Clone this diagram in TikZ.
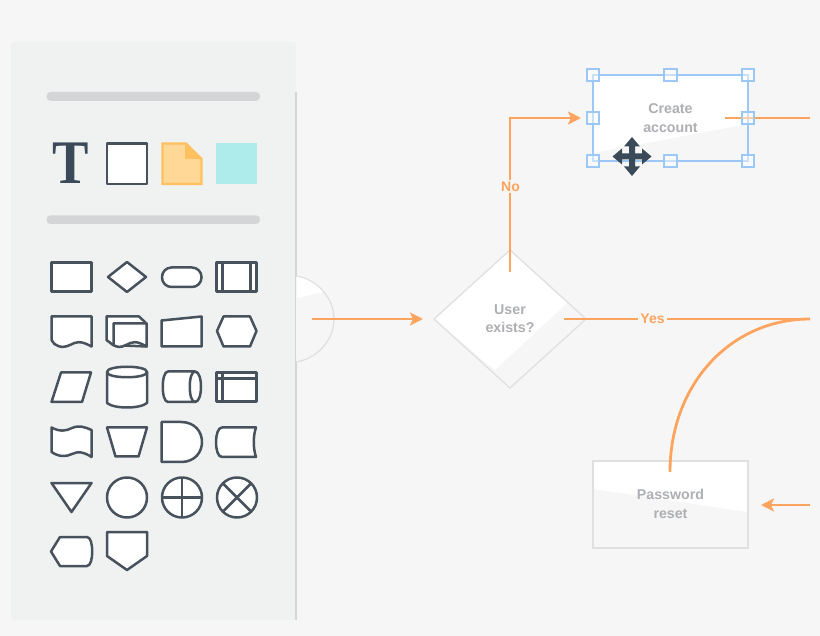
\documentclass[tikz,border=0pt]{standalone}
\usepackage{xcolor}
\usepackage{fontspec}
\setmainfont{Liberation Sans}
\newfontfamily\serifT{Liberation Serif}
\usetikzlibrary{arrows.meta}
\definecolor{pagebg}{HTML}{F6F6F6}
\definecolor{panelbg}{HTML}{F0F2F1}
\definecolor{barcol}{HTML}{D3D5D6}
\definecolor{iconcol}{HTML}{47525D}
\definecolor{darkcol}{HTML}{3B4A58}
\definecolor{flowcol}{HTML}{FFA45E}
\definecolor{edgecol}{HTML}{E0E0E0}
\definecolor{textcol}{HTML}{ADAFB3}
\definecolor{selcol}{HTML}{9CC8F7}
\definecolor{notefill}{HTML}{FFD898}
\definecolor{noteedge}{HTML}{FFC05F}
\definecolor{tealfill}{HTML}{AEECEB}
\tikzset{
  icon/.style={draw=iconcol,fill=white,line width=2.5pt,line join=round},
  iconline/.style={draw=iconcol,line width=2.5pt},
  bar/.style={fill=barcol,rounded corners=4pt},
  flow/.style={draw=flowcol,line width=2.8pt},
  arrowflow/.style={flow,-{Stealth[length=13pt,width=13pt,inset=3pt]}},
  outline/.style={draw=edgecol,line width=1.3pt},
  label/.style={font=\fontsize{14.2}{18.5}\selectfont\bfseries,text=textcol,align=center,inner sep=0pt},
  flowlabel/.style={font=\fontsize{14}{16}\selectfont\bfseries,text=flowcol,fill=pagebg,inner sep=2pt},
  handle/.style={draw=selcol,fill=white,fill opacity=0.45,line width=1.7pt,minimum size=12.5pt,inner sep=0pt}
}
\begin{document}
\begin{tikzpicture}[x=1pt,y=-1pt]
\useasboundingbox (0,0) rectangle (820,636);
\fill[pagebg] (0,0) rectangle (820,636);

\fill[panelbg,rounded corners=3pt] (11,42) rectangle (296,620);
\draw[barcol,line width=1.5pt] (296,92) -- (296,620);
\fill[bar] (46.5,92) rectangle (260,100.8);
\fill[bar] (46.5,215.3) rectangle (260,224);

\node (ttool) at (71,163.5) [text=darkcol,inner sep=0pt,xscale=0.88,font=\fontsize{62}{62}\selectfont\serifT\bfseries] {T};
\draw[icon] (107,143.5) rectangle (147,184);
\draw[draw=noteedge,fill=notefill,line width=2.4pt] (162.5,143.5) -- (186,143.5) -- (201.5,159) -- (201.5,184) -- (162.5,184) -- cycle;
\fill[noteedge] (185,143.5) -- (201.5,159) -- (185,159) -- cycle;
\fill[tealfill] (216,143) rectangle (257,184.5);

\draw[icon] (51.5,262.5) rectangle (91.5,291.5);
\draw[icon] (108,277) -- (127,262) -- (146,277) -- (127,292) -- cycle;
\draw[icon,rounded corners=9.5pt] (162,267.5) rectangle (201.5,287);
\draw[icon] (216.5,262.5) rectangle (256.5,291.5);
\draw[iconline] (222.5,262.5) -- (222.5,291.5);
\draw[iconline] (250.5,262.5) -- (250.5,291.5);

\draw[icon] (51.5,316.5) -- (91.5,316.5) -- (91.5,346.5) .. controls (80,340) and (76,342) .. (70,345) .. controls (62,349) and (54,346) .. (51.5,340) -- cycle;
\draw[icon] (106.5,316.5) -- (139,316.5) -- (146.5,323.5) -- (146.5,346.5) -- (113,345) -- (106.5,340) -- cycle;
\draw[icon] (113.5,323.5) -- (146.5,323.5) -- (146.5,346.5) .. controls (136,340) and (132,342) .. (126,345) .. controls (121,348) and (116,347) .. (113.5,345) -- cycle;
\draw[icon] (161.5,320.5) -- (201.5,316.5) -- (201.5,346.5) -- (161.5,346.5) -- cycle;
\draw[icon] (217,331) -- (223.5,316.5) -- (250,316.5) -- (256.5,331) -- (250,346.5) -- (223.5,346.5) -- cycle;

\draw[icon] (51.5,402) -- (61,372.5) -- (91,372.5) -- (82,402) -- cycle;
\draw[icon] (107,372) .. controls (107,365) and (147,365) .. (147,372) -- (147,403) .. controls (140,409) and (114,409) .. (107,403) -- cycle;
\draw[iconline] (107,372) .. controls (107,379) and (147,379) .. (147,372);
\draw[icon] (168,371.5) -- (195,371.5) .. controls (203,371.5) and (203,402) .. (195,402) -- (168,402) .. controls (161,402) and (161,371.5) .. (168,371.5) -- cycle;
\draw[iconline] (195,371.5) .. controls (188,371.5) and (188,402) .. (195,402);
\draw[icon] (216.5,372.5) rectangle (256.5,401.5);
\draw[iconline] (216.5,378.5) -- (256.5,378.5);
\draw[iconline] (222.5,372.5) -- (222.5,401.5);

\draw[icon] (51.5,427.5) .. controls (60,432) and (66,431) .. (72,428) .. controls (79,425) and (85,427) .. (91.5,430) -- (91.5,457) .. controls (84,452) and (78,451) .. (72,454) .. controls (66,457) and (59,457) .. (51.5,452) -- cycle;
\draw[icon] (107,427.5) -- (147,427.5) -- (138.5,456.5) -- (115.5,456.5) -- cycle;
\draw[icon] (161.5,422) -- (181,422) .. controls (209,422) and (209,462) .. (181,462) -- (161.5,462) -- cycle;
\draw[icon] (222,427.5) -- (256,427.5) .. controls (253,436) and (253,448) .. (256,457) -- (222,457) .. controls (214,457) and (214,427.5) .. (222,427.5) -- cycle;

\draw[icon] (51.5,483) -- (91.5,483) -- (71.5,512) -- cycle;
\draw[icon] (127,497.5) circle[radius=20];
\draw[icon] (182,497.5) circle[radius=20];
\draw[iconline] (162,497.5) -- (202,497.5);
\draw[iconline] (182,477.5) -- (182,517.5);
\draw[icon] (237,497.5) circle[radius=20];
\draw[iconline] (223,483.5) -- (251,511.5);
\draw[iconline] (251,483.5) -- (223,511.5);

\draw[icon] (51,551.5) -- (60,537) -- (87,537) .. controls (94,537) and (94,566) .. (87,566) -- (60,566) -- cycle;
\draw[icon] (107,532) -- (147,532) -- (147,556) -- (127,570) -- (107,556) -- cycle;

\draw[outline,fill=pagebg] (296,276) .. controls (316,279) and (334,297) .. (334,319) .. controls (334,341) and (316,359) .. (296,362);
\fill[white] (297,277) .. controls (306,278) and (316,284) .. (323,292) -- (297,298) -- cycle;

\fill[white] (434,319) -- (510,250) -- (567,303) -- (495,370) -- cycle;
\draw[outline] (434,319) -- (510,250) -- (586,319) -- (510,388) -- cycle;
\fill[white] (593,75) -- (748,75) -- (748,124) -- (593,153) -- cycle;
\fill[white] (593,461) -- (748,461) -- (748,512) -- (593,489) -- cycle;
\draw[outline] (593,461) rectangle (748,548);
\draw[selcol,line width=1.7pt] (593,75) rectangle (748,161);

\node (create) at (670.5,118) [label] {Create\\account};
\node (exists) at (510,318.5) [label] {User\\exists?};
\node (reset) at (670.5,504) [label] {Password\\reset};

\coordinate (c1) at (312,319);
\coordinate (c2) at (423,319);
\coordinate (c3) at (510,272);
\coordinate (c4) at (510,118);
\coordinate (c5) at (581,118);
\coordinate (c6) at (725,118);
\coordinate (c7) at (810,118);
\coordinate (c8) at (564,319);
\coordinate (c9) at (810,319);
\coordinate (c10) at (670,472);
\coordinate (c11) at (810,505);
\coordinate (c12) at (761,505);

\draw[arrowflow] (c1) -- (c2);
\draw[arrowflow] (c3) -- (c4) -- (c5);
\draw[flow] (c6) -- (c7);
\draw[flow] (c8) -- (c9);
\draw[flow] (c10) .. controls (670,385) and (730,319) .. (c9);
\draw[arrowflow] (c11) -- (c12);

\node (no) at (510.5,186.5) [flowlabel] {No};
\node (yes) at (652.5,318.5) [flowlabel] {Yes};

\node (h1) at (593,75) [handle] {};
\node (h2) at (670.5,75) [handle] {};
\node (h3) at (748,75) [handle] {};
\node (h4) at (593,118) [handle] {};
\node (h5) at (748,118) [handle] {};
\node (h6) at (593,161) [handle] {};
\node (h7) at (670.5,161) [handle] {};
\node (h8) at (748,161) [handle] {};

\fill[darkcol,shift={(632,156.5)}] (0,-19.5) -- (8,-10) -- (3,-10) -- (3,-3) -- (10,-3) -- (10,-8) -- (19.5,0) -- (10,8) -- (10,3) -- (3,3) -- (3,10) -- (8,10) -- (0,19.5) -- (-8,10) -- (-3,10) -- (-3,3) -- (-10,3) -- (-10,8) -- (-19.5,0) -- (-10,-8) -- (-10,-3) -- (-3,-3) -- (-3,-10) -- (-8,-10) -- cycle;
\end{tikzpicture}
\end{document}
